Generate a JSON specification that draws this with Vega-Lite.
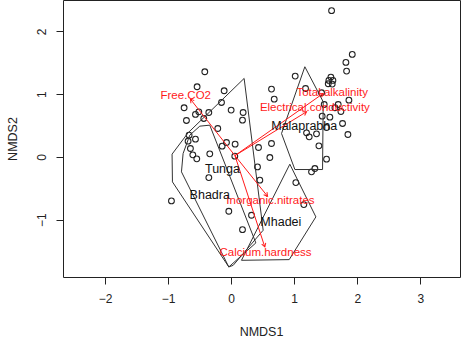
{
  "$schema": "https://vega.github.io/schema/vega-lite/v6.json",
  "autosize": {"type": "none"},
  "padding": {"left": 63, "top": 0, "right": 14, "bottom": 79},
  "width": 397,
  "height": 277,
  "config": {
    "view": {"stroke": "#222", "strokeWidth": 1},
    "font": "Liberation Sans",
    "axis": {
      "grid": false, "domain": false, "tickColor": "#222", "tickSize": 7, "tickWidth": 1,
      "labelFont": "Liberation Sans", "labelFontSize": 12, "labelColor": "#222",
      "titleFont": "Liberation Sans", "titleFontSize": 12.5, "titleFontWeight": "normal", "titleColor": "#222"
    }
  },
  "datasets": {
    "points": [
      {"x": 1.593, "y": 2.33}, {"x": 1.921, "y": 1.633}, {"x": 1.82, "y": 1.505}, {"x": 1.831, "y": 1.367},
      {"x": -0.418, "y": 1.356}, {"x": 1.016, "y": 1.287}, {"x": 1.582, "y": 1.271}, {"x": 1.55, "y": 1.218},
      {"x": 1.614, "y": 1.218}, {"x": 1.54, "y": 1.165}, {"x": 1.603, "y": 1.16}, {"x": -0.54, "y": 1.117},
      {"x": 0.64, "y": 1.08}, {"x": 1.18, "y": 1.09}, {"x": -0.111, "y": 1.053}, {"x": 1.434, "y": 1.021},
      {"x": 0.683, "y": 0.92}, {"x": -0.153, "y": 0.867}, {"x": 1.868, "y": 0.904}, {"x": -0.746, "y": 0.782},
      {"x": 1.476, "y": 0.835}, {"x": 1.698, "y": 0.835}, {"x": 0.0, "y": 0.745}, {"x": -0.513, "y": 0.718},
      {"x": -0.354, "y": 0.707}, {"x": -0.566, "y": 0.676}, {"x": 0.19, "y": 0.707}, {"x": 1.646, "y": 0.782},
      {"x": 1.741, "y": 0.723}, {"x": -0.709, "y": 0.58}, {"x": -0.434, "y": 0.612}, {"x": 0.18, "y": 0.585},
      {"x": 1.444, "y": 0.649}, {"x": 1.566, "y": 0.633}, {"x": 1.767, "y": 0.532}, {"x": -0.212, "y": 0.452},
      {"x": 1.513, "y": 0.468}, {"x": 1.196, "y": 0.383}, {"x": 1.354, "y": 0.367}, {"x": 1.238, "y": 0.319},
      {"x": 1.852, "y": 0.356}, {"x": -0.667, "y": 0.346}, {"x": -0.566, "y": 0.282}, {"x": -0.683, "y": 0.25},
      {"x": -0.074, "y": 0.229}, {"x": 0.063, "y": 0.202}, {"x": -0.143, "y": 0.17}, {"x": -0.646, "y": 0.133},
      {"x": 0.434, "y": 0.149}, {"x": 0.64, "y": 0.213}, {"x": 1.392, "y": 0.176}, {"x": -0.608, "y": 0.032},
      {"x": -0.339, "y": 0.048}, {"x": -0.545, "y": -0.032}, {"x": 0.058, "y": 0.011}, {"x": 0.614, "y": -0.011},
      {"x": 1.513, "y": -0.037}, {"x": 0.418, "y": -0.16}, {"x": 1.328, "y": -0.186}, {"x": 1.275, "y": -0.239},
      {"x": -0.354, "y": -0.33}, {"x": 0.455, "y": -0.372}, {"x": 1.026, "y": -0.41}, {"x": -0.947, "y": -0.702},
      {"x": 1.153, "y": -0.761}, {"x": -0.037, "y": -0.867}, {"x": 0.323, "y": -0.931}, {"x": 0.18, "y": -1.16}
    ],
    "hulls": [
      {"group": "Tunga", "ord": 1, "x": 0.206, "y": 1.25},
      {"group": "Tunga", "ord": 2, "x": 0.508, "y": -1.17},
      {"group": "Tunga", "ord": 3, "x": 0.032, "y": -1.729},
      {"group": "Tunga", "ord": 4, "x": -0.037, "y": -1.755},
      {"group": "Tunga", "ord": 5, "x": -0.931, "y": -0.399},
      {"group": "Tunga", "ord": 6, "x": -0.937, "y": 0.043},
      {"group": "Tunga", "ord": 7, "x": -0.683, "y": 0.383},
      {"group": "Tunga", "ord": 8, "x": 0.206, "y": 1.25},
      {"group": "Bhadra", "ord": 1, "x": -0.339, "y": 0.505},
      {"group": "Bhadra", "ord": 2, "x": -0.497, "y": 0.489},
      {"group": "Bhadra", "ord": 3, "x": -0.656, "y": 0.346},
      {"group": "Bhadra", "ord": 4, "x": -0.762, "y": 0.053},
      {"group": "Bhadra", "ord": 5, "x": -0.788, "y": -0.239},
      {"group": "Bhadra", "ord": 6, "x": -0.037, "y": -1.755},
      {"group": "Bhadra", "ord": 7, "x": 0.392, "y": -1.372},
      {"group": "Bhadra", "ord": 8, "x": -0.339, "y": 0.505},
      {"group": "Mhadei", "ord": 1, "x": 0.931, "y": -0.117},
      {"group": "Mhadei", "ord": 2, "x": 1.344, "y": -0.957},
      {"group": "Mhadei", "ord": 3, "x": 0.921, "y": -1.638},
      {"group": "Mhadei", "ord": 4, "x": 0.164, "y": -1.649},
      {"group": "Mhadei", "ord": 5, "x": 0.931, "y": -0.117},
      {"group": "Malaprabha", "ord": 1, "x": 1.169, "y": 1.436},
      {"group": "Malaprabha", "ord": 2, "x": 1.46, "y": 0.878},
      {"group": "Malaprabha", "ord": 3, "x": 1.45, "y": -0.202},
      {"group": "Malaprabha", "ord": 4, "x": 1.011, "y": -0.202},
      {"group": "Malaprabha", "ord": 5, "x": 0.799, "y": 0.372},
      {"group": "Malaprabha", "ord": 6, "x": 1.169, "y": 1.436}
    ],
    "arrows": [
      {"var": "Free.CO2", "x0": 0.06, "y0": 0.02, "x": -0.646, "y": 0.92, "lx": -0.72, "ly": 0.973},
      {"var": "Total.alkalinity", "x0": 0.06, "y0": 0.02, "x": 1.46, "y": 1.01, "lx": 1.603, "ly": 1.01},
      {"var": "Electrical.conductivity", "x0": 0.06, "y0": 0.02, "x": 1.196, "y": 0.718, "lx": 1.328, "ly": 0.782},
      {"var": "Inorganic.nitrates", "x0": 0.06, "y0": 0.02, "x": 0.577, "y": -0.628, "lx": 0.624, "ly": -0.697},
      {"var": "Calcium.hardness", "x0": 0.06, "y0": 0.02, "x": 0.534, "y": -1.436, "lx": 0.545, "ly": -1.532}
    ],
    "labels": [
      {"group": "Tunga", "x": -0.138, "y": -0.197},
      {"group": "Bhadra", "x": -0.339, "y": -0.601},
      {"group": "Mhadei", "x": 0.788, "y": -1.037},
      {"group": "Malaprabha", "x": 1.159, "y": 0.489}
    ]
  },
  "layer": [
    {
      "data": {"name": "points"},
      "mark": {"type": "point", "shape": "circle", "filled": false, "stroke": "#222", "strokeWidth": 1.1, "size": 33, "opacity": 1},
      "encoding": {
        "x": {"field": "x", "type": "quantitative", "scale": {"domain": [-2.667, 3.63], "nice": false, "zero": false},
          "axis": {"values": [-2, -1, 0, 1, 2, 3], "format": "d", "title": "NMDS1", "labelPadding": 9, "titleX": 198, "titleY": 54, "titleBaseline": "middle", "titleAnchor": "middle"}},
        "y": {"field": "y", "type": "quantitative", "scale": {"domain": [-1.915, 2.5], "nice": false, "zero": false},
          "axis": {"values": [-1, 0, 1, 2], "format": "d", "title": "NMDS2", "labelAngle": -90, "labelAlign": "center", "labelBaseline": "alphabetic", "labelPadding": 11, "titleX": -51, "titleY": 138.5, "titleAngle": -90, "titleBaseline": "middle", "titleAlign": "center"}}
      }
    },
    {
      "data": {"name": "hulls"},
      "mark": {"type": "line", "stroke": "#333", "strokeWidth": 1},
      "encoding": {
        "x": {"field": "x", "type": "quantitative"},
        "y": {"field": "y", "type": "quantitative"},
        "detail": {"field": "group"},
        "order": {"field": "ord", "type": "quantitative"}
      }
    },
    {
      "data": {"name": "arrows"},
      "mark": {"type": "rule", "color": "#ff1a1a", "strokeWidth": 1},
      "encoding": {
        "x": {"field": "x0", "type": "quantitative"},
        "y": {"field": "y0", "type": "quantitative"},
        "x2": {"field": "x"},
        "y2": {"field": "y"}
      }
    },
    {
      "data": {"name": "arrows"},
      "transform": [{"calculate": "atan2(datum.x - datum.x0, datum.y - datum.y0) * 180 / PI", "as": "ang"}],
      "mark": {"type": "point", "shape": "M -0.6 1 L 0 0 L 0.6 1", "filled": false, "stroke": "#ff1a1a", "strokeWidth": 1, "size": 50, "opacity": 1},
      "encoding": {
        "x": {"field": "x", "type": "quantitative"},
        "y": {"field": "y", "type": "quantitative"},
        "angle": {"field": "ang", "type": "quantitative", "scale": null}
      }
    },
    {
      "data": {"name": "arrows"},
      "mark": {"type": "text", "color": "#ff1a1a", "font": "Liberation Sans", "fontSize": 11.5, "align": "center", "baseline": "middle"},
      "encoding": {
        "x": {"field": "lx", "type": "quantitative"},
        "y": {"field": "ly", "type": "quantitative"},
        "text": {"field": "var"}
      }
    },
    {
      "data": {"name": "labels"},
      "mark": {"type": "text", "color": "#111", "font": "Liberation Sans", "fontSize": 12.5, "align": "center", "baseline": "middle"},
      "encoding": {
        "x": {"field": "x", "type": "quantitative"},
        "y": {"field": "y", "type": "quantitative"},
        "text": {"field": "group"}
      }
    }
  ]
}
